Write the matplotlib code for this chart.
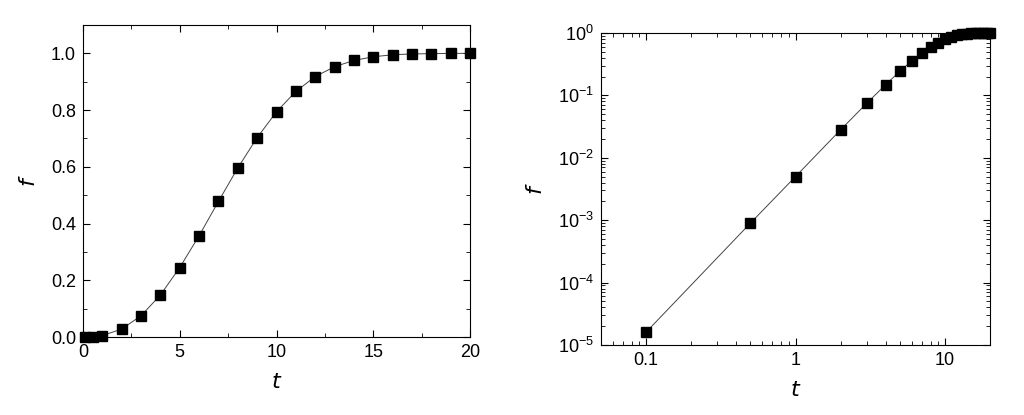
import matplotlib
matplotlib.use("Agg")
import matplotlib.pyplot as plt
from matplotlib.ticker import MultipleLocator, LogLocator, FixedLocator, NullFormatter

plt.rcParams['font.family'] = ['Liberation Sans', 'DejaVu Sans']

t = [0.1, 0.5, 1, 2, 3, 4, 5, 6, 7, 8, 9, 10, 11, 12, 13, 14, 15, 16, 17, 18, 19, 20]
f = [1.6e-5, 9e-4, 5e-3, 0.028, 0.075, 0.148, 0.245, 0.357, 0.478, 0.596, 0.703,
     0.794, 0.866, 0.918, 0.953, 0.975, 0.988, 0.995, 0.998, 0.999, 1.0, 1.0]

fig = plt.figure(figsize=(10.24, 4.15), dpi=100)
ax1 = fig.add_axes([83/1024, 78/415, 387/1024, 312/415])
ax2 = fig.add_axes([601/1024, 70/415, 389/1024, 312/415])

for ax in (ax1, ax2):
    ax.plot(t, f, color='#444444', lw=0.7, marker='s', ms=7, mfc='black', mec='black', clip_on=False, zorder=3)
    ax.tick_params(which='both', direction='in', top=True, right=True, labelsize=13, pad=5)
    ax.tick_params(which='major', length=5)
    ax.tick_params(which='minor', length=3)
    ax.set_xlabel('$t$', fontsize=16, labelpad=8)
    ax.set_ylabel('$f$', fontsize=16, labelpad=8)

ax1.set_xlim(0, 20)
ax1.set_ylim(0, 1.1)
ax1.xaxis.set_major_locator(MultipleLocator(5))
ax1.xaxis.set_minor_locator(MultipleLocator(2.5))
ax1.yaxis.set_major_locator(FixedLocator([0, 0.2, 0.4, 0.6, 0.8, 1.0]))
ax1.yaxis.set_minor_locator(MultipleLocator(0.1))
ax1.yaxis.set_major_formatter(matplotlib.ticker.FormatStrFormatter('%.1f'))

ax2.set_xscale('log')
ax2.set_yscale('log')
ax2.set_xlim(0.05, 20)
ax2.set_ylim(1e-5, 1)
ax2.set_xticks([0.1, 1, 10])
ax2.set_xticklabels(['0.1', '1', '10'])
ax2.xaxis.set_minor_locator(LogLocator(base=10, subs=range(2, 10)))
ax2.xaxis.set_minor_formatter(NullFormatter())
ax2.yaxis.set_major_locator(LogLocator(base=10, numticks=10))
ax2.yaxis.set_minor_locator(LogLocator(base=10, subs=range(2, 10), numticks=10))
ax2.yaxis.set_minor_formatter(NullFormatter())

fig.savefig('out.png', dpi=100)
